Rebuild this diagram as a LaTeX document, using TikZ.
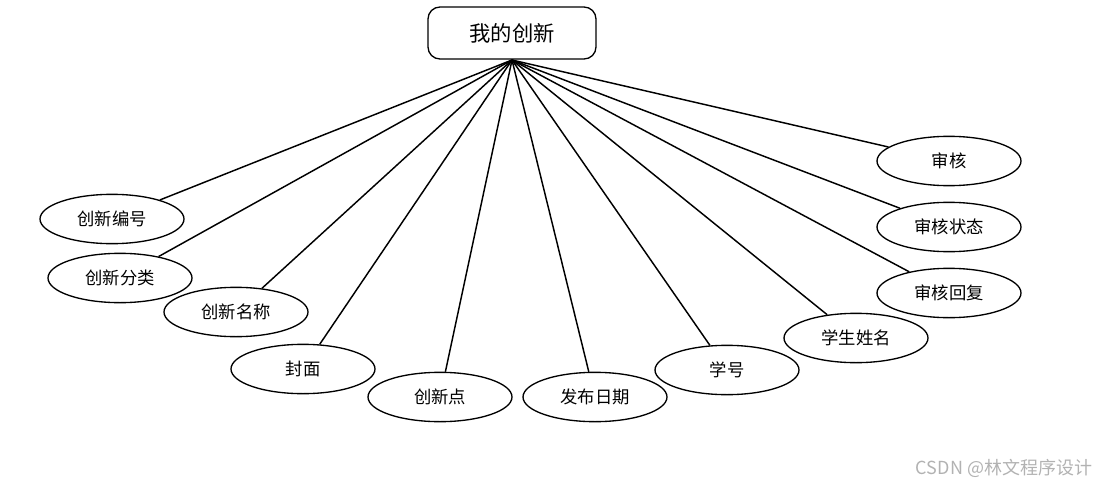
\documentclass[tikz,border=0pt]{standalone}
\usepackage{fontspec}
\newfontfamily\cjk{Noto Sans CJK SC}
\usetikzlibrary{shapes.geometric}
\begin{document}
\begin{tikzpicture}[x=0.75pt,y=-0.75pt,
  attr/.style={draw,ellipse,line width=1pt,minimum width=108pt,minimum height=37pt,inner sep=0pt,font=\cjk\fontsize{13}{15}\selectfont},
  link/.style={line width=1.1pt}]
\useasboundingbox (0,0) rectangle (1115,489);
\node[draw,line width=1pt,rounded corners=9pt,minimum width=126pt,minimum height=39pt,font=\cjk\fontsize{16}{18}\selectfont] (root) at (512,33) {我的创新};
\coordinate (hub) at (512,60);
\node[attr] (a1) at (112,219) {创新编号};
\node[attr] (a2) at (120,278) {创新分类};
\node[attr] (a3) at (236,312) {创新名称};
\node[attr] (a4) at (303,369) {封面};
\node[attr] (a5) at (440,397) {创新点};
\node[attr] (a6) at (595,397) {发布日期};
\node[attr] (a7) at (727,370) {学号};
\node[attr] (a8) at (856,338) {学生姓名};
\node[attr] (a9) at (949,293) {审核回复};
\node[attr] (a10) at (949,227) {审核状态};
\node[attr] (a11) at (949,161) {审核};
\foreach \n in {a1,a2,a3,a4,a5,a6,a7,a8,a9,a10,a11} \draw[link] (hub) -- (\n);
\node[text=gray!60,font=\cjk\fontsize{13.5}{15}\selectfont] (wm) at (1004,468) {CSDN @林文程序设计};
\end{tikzpicture}
\end{document}
